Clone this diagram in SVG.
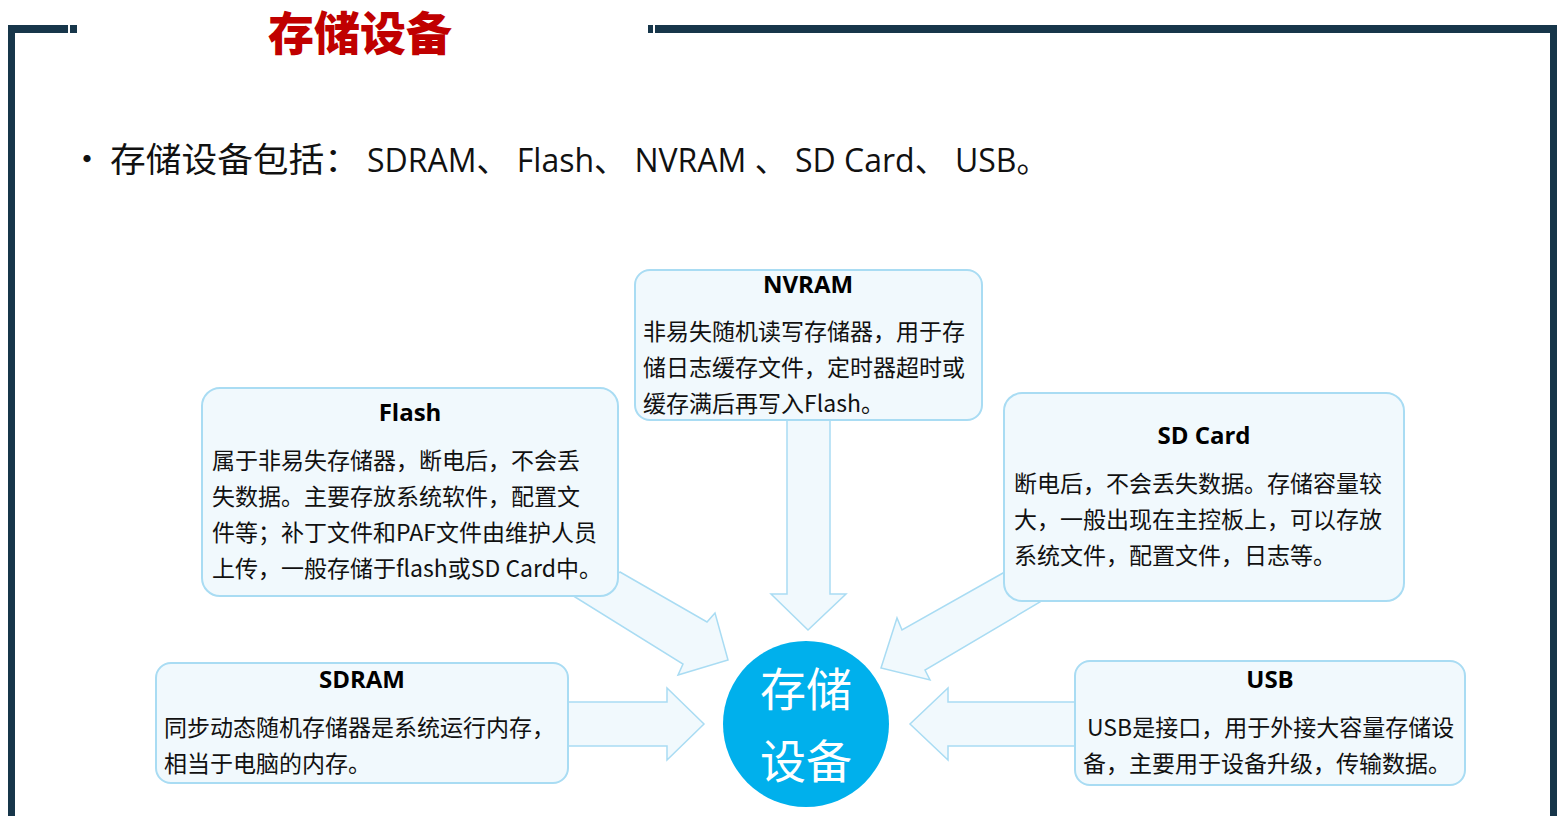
<svg xmlns="http://www.w3.org/2000/svg" width="1565" height="816" viewBox="0 0 1565 816">
<style>
.f{fill:#17364a}
.box{fill:#f1f9fd;stroke:#a9dcf3;stroke-width:2}
.arr{fill:#f1f9fd;stroke:#a9dcf3;stroke-width:1.5}
.h{font-family:"Open Sans","Noto Sans CJK SC",sans-serif;font-weight:bold;font-size:24px;fill:#000;text-anchor:middle}
.t{font-family:"Noto Sans CJK SC",sans-serif;font-size:23px;fill:#111}
</style>
<rect width="1565" height="816" fill="#fff"/>
<g id="frame">
<rect class="f" x="8" y="25" width="60" height="8"/><rect class="f" x="70" y="25" width="7" height="8"/>
<rect class="f" x="8" y="25" width="7" height="791"/>
<rect class="f" x="648" y="25" width="5" height="8"/><rect class="f" x="655" y="25" width="902" height="8"/>
<rect class="f" x="1550" y="25" width="7" height="791"/>
</g>
<text x="268" y="50" font-family="Noto Sans CJK SC,sans-serif" font-weight="900" font-size="46" fill="#c00000">存储设备</text>
<text x="70" y="172" font-family="Noto Sans CJK SC,sans-serif" font-size="34" fill="#111">•</text>
<text x="110" y="172" font-family="Open Sans,Noto Sans CJK SC,sans-serif" font-size="34" fill="#111" textLength="250" lengthAdjust="spacingAndGlyphs">存储设备包括：</text>
<text x="367" y="172" font-family="Open Sans,Noto Sans CJK SC,sans-serif" font-size="32" fill="#111">SDRAM、 Flash、 NVRAM 、 SD Card、 USB。</text>
<g id="connectors">
<polygon class="arr" points="568,702 667,702 667,688 704,724 667,760 667,746 568,746"/>
<polygon class="arr" points="1075,702 948,702 948,688 910,724 948,760 948,746 1075,746"/>
<polygon class="arr" points="787,420 830,420 830,594 846,594 808,630 771,594 787,594"/>
<polygon class="arr" points="620,572 707,622 715,613 728,660 678,675 683,664 575,597"/>
<polygon class="arr" points="1003,573 902,630 897,618 881,668 930,680 925,670 1040,602"/>
</g>
<g id="center">
<circle cx="806" cy="724" r="83" fill="#00b0ec"/>
<text x="806" y="706" font-family="Noto Sans CJK SC,sans-serif" font-size="46" fill="#fff" text-anchor="middle">存储</text>
<text x="806" y="778" font-family="Noto Sans CJK SC,sans-serif" font-size="46" fill="#fff" text-anchor="middle">设备</text>
</g>
<g id="nvram">
<rect class="box" x="635" y="270" width="347" height="150" rx="15"/>
<text class="h" x="808" y="293">NVRAM</text>
<text class="t" x="643" y="340">非易失随机读写存储器，用于存</text>
<text class="t" x="643" y="376">储日志缓存文件，定时器超时或</text>
<text class="t" x="643" y="412">缓存满后再写入Flash。</text>
</g>
<g id="flash">
<rect class="box" x="202" y="388" width="416" height="208" rx="18"/>
<text class="h" x="410" y="421">Flash</text>
<text class="t" x="212" y="469">属于非易失存储器，断电后，不会丢</text>
<text class="t" x="212" y="505">失数据。主要存放系统软件，配置文</text>
<text class="t" x="212" y="541">件等；补丁文件和PAF文件由维护人员</text>
<text class="t" x="212" y="577">上传，一般存储于flash或SD Card中。</text>
</g>
<g id="sdcard">
<rect class="box" x="1004" y="393" width="400" height="208" rx="18"/>
<text class="h" x="1204" y="444">SD Card</text>
<text class="t" x="1014" y="492">断电后，不会丢失数据。存储容量较</text>
<text class="t" x="1014" y="528">大，一般出现在主控板上，可以存放</text>
<text class="t" x="1014" y="564">系统文件，配置文件，日志等。</text>
</g>
<g id="sdram">
<rect class="box" x="156" y="663" width="412" height="120" rx="15"/>
<text class="h" x="362" y="688">SDRAM</text>
<text class="t" x="164" y="736">同步动态随机存储器是系统运行内存，</text>
<text class="t" x="164" y="772">相当于电脑的内存。</text>
</g>
<g id="usb">
<rect class="box" x="1075" y="661" width="390" height="124" rx="15"/>
<text class="h" x="1270" y="688">USB</text>
<text class="t" x="1087" y="736">USB是接口，用于外接大容量存储设</text>
<text class="t" x="1083" y="772">备，主要用于设备升级，传输数据。</text>
</g>
</svg>
